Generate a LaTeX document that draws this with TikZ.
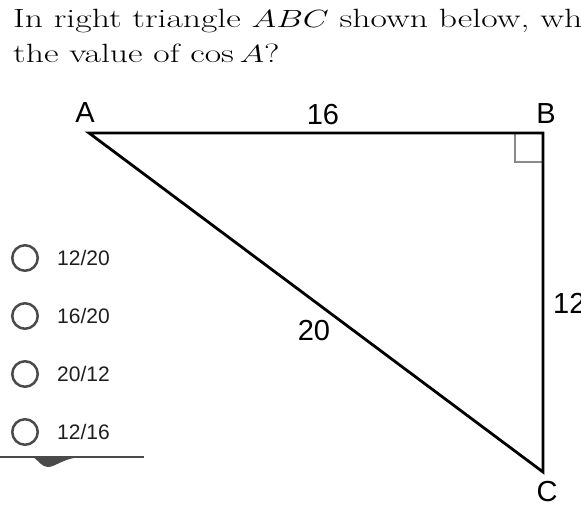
\documentclass[tikz,border=0pt]{standalone}
\usepackage{amsmath}
\usepackage{fontspec}
\newfontfamily\labelfont{Liberation Sans}
\usepackage{tikz}
\definecolor{markgray}{HTML}{8A8A8A}
\definecolor{radiogray}{HTML}{4A4A4A}
\definecolor{inkgray}{HTML}{1E1E1E}
\tikzstyle{side}=[draw=black, line width=2.8pt]
\tikzstyle{rightmark}=[draw=markgray, line width=1.4pt]
\tikzstyle{vlabel}=[anchor=base, inner sep=0pt, font=\labelfont\fontsize{29}{29}\selectfont]
\tikzstyle{radio}=[circle, draw=radiogray, line width=2.5pt, minimum size=25.5pt, inner sep=0pt]
\tikzstyle{choice}=[anchor=base west, inner sep=0pt, text=inkgray, font=\labelfont\fontsize{21}{21}\selectfont]
\tikzstyle{question}=[anchor=base west, inner sep=0pt, font=\fontsize{26.4}{35}\selectfont]
\tikzstyle{menuline}=[draw=radiogray, line width=1.3pt]

\begin{document}
\begin{tikzpicture}[x=1pt, y=-1pt]
		   \useasboundingbox (0,0) rectangle (581,508);
		   \clip (0,0) rectangle (581,508);
		   \begin{scope}
			   \node (q1) at (13,28)[question] {\scalebox{1.35}[1]{In right triangle $ABC$ shown below, what}};
			   \node (q2) at (13,63)[question] {\scalebox{1.35}[1]{the value of $\cos A$?}};
		   \end{scope}
		   \begin{scope}
			   \coordinate (A) at (89, 133);
			   \coordinate (B) at (543, 133);
			   \coordinate (C) at (543, 472);
			   \coordinate (r1) at (515, 133);
			   \coordinate (r2) at (515, 162);
			   \coordinate (r3) at (543, 162);
			   \node (lA) at (85, 123)[vlabel] {A};
			   \node (lB) at (546, 124)[vlabel] {B};
			   \node (lC) at (547, 501)[vlabel] {C};
			   \node (ab) at (323, 125)[vlabel] {16};
			   \node (bc) at (553, 313)[vlabel, anchor=base west] {12};
			   \node (ac) at (314, 340)[vlabel] {20};
		   \end{scope}
		   \begin{scope}
			   \path [rightmark] (r1) -- (r2) -- (r3);
			   \path [side] (A) -- (B) -- (C) -- cycle;
		   \end{scope}
		   \begin{scope}
			   \node (o1) at (25, 258)[radio] {};
			   \node (o2) at (25, 316)[radio] {};
			   \node (o3) at (25, 374)[radio] {};
			   \node (o4) at (25, 432)[radio] {};
			   \node (t1) at (57, 265)[choice] {12/20};
			   \node (t2) at (57, 323)[choice] {16/20};
			   \node (t3) at (57, 381)[choice] {20/12};
			   \node (t4) at (57, 439)[choice] {12/16};
		   \end{scope}
		   \begin{scope}
			   \coordinate (m0) at (0, 457);
			   \coordinate (m1) at (144, 457);
			   \path [menuline] (m0) -- (m1);
			   \fill [radiogray] (33, 457) .. controls (40, 462) and (42, 467) .. (48, 467)
			       .. controls (55, 467) and (62, 459) .. (80, 457) -- cycle;
		   \end{scope}
	   \end{tikzpicture}
\end{document}
